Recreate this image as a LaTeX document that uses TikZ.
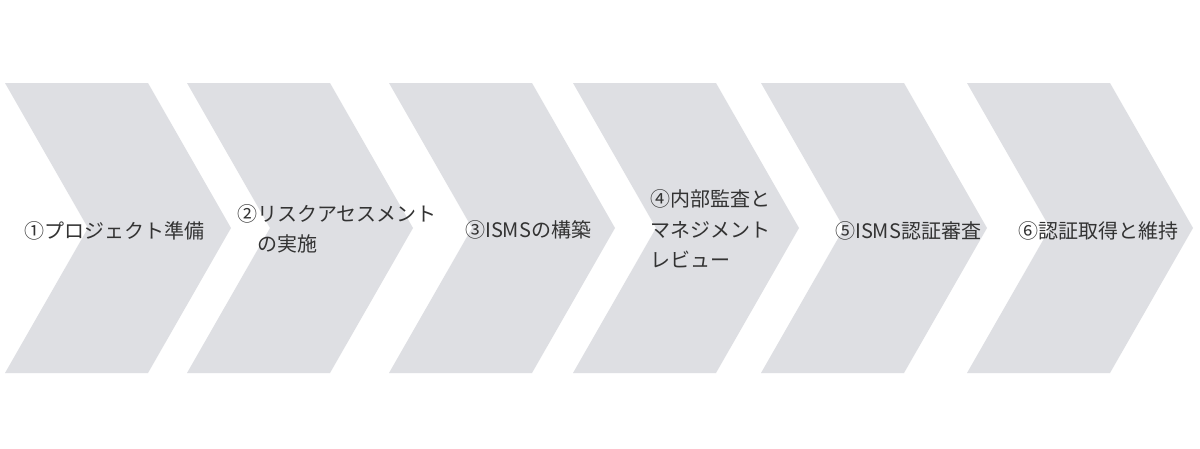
\documentclass[tikz,border=0pt]{standalone}
\usepackage{fontspec}
\newfontfamily\jpfont{Noto Sans CJK JP}
\definecolor{chevgray}{RGB}{222,223,227}
\definecolor{txtgray}{RGB}{51,51,51}
\begin{document}
\begin{tikzpicture}[x=1pt,y=-1pt,
  chevfill/.style={fill=chevgray,draw=none},
  steplabel/.style={anchor=west,inner sep=0pt,align=left,text=txtgray,
    font=\jpfont\fontsize{20}{30.5}\selectfont}]
\useasboundingbox (0,0) rectangle (1200,448);
\fill[white] (0,0) rectangle (1200,448);
\foreach \x in {5,187,389,573,761,967}{
  \path[chevfill] (\x,83) -- ++(143,0) -- ++(83,145) -- ++(-83,145) -- ++(-143,0) -- ++(83,-145) -- cycle;
}
\node[steplabel] (s1) at (24,231) {①プロジェクト準備};
\node[steplabel] (s2) at (237,229) {②リスクアセスメント\\\hspace*{20pt}の実施};
\node[steplabel] (s3) at (465,230) {③ISMSの構築};
\node[steplabel] (s4) at (650,229) {④内部監査と\\マネジメント\\レビュー};
\node[steplabel] (s5) at (835,231) {⑤ISMS認証審査};
\node[steplabel] (s6) at (1018,231) {⑥認証取得と維持};
\end{tikzpicture}
\end{document}
